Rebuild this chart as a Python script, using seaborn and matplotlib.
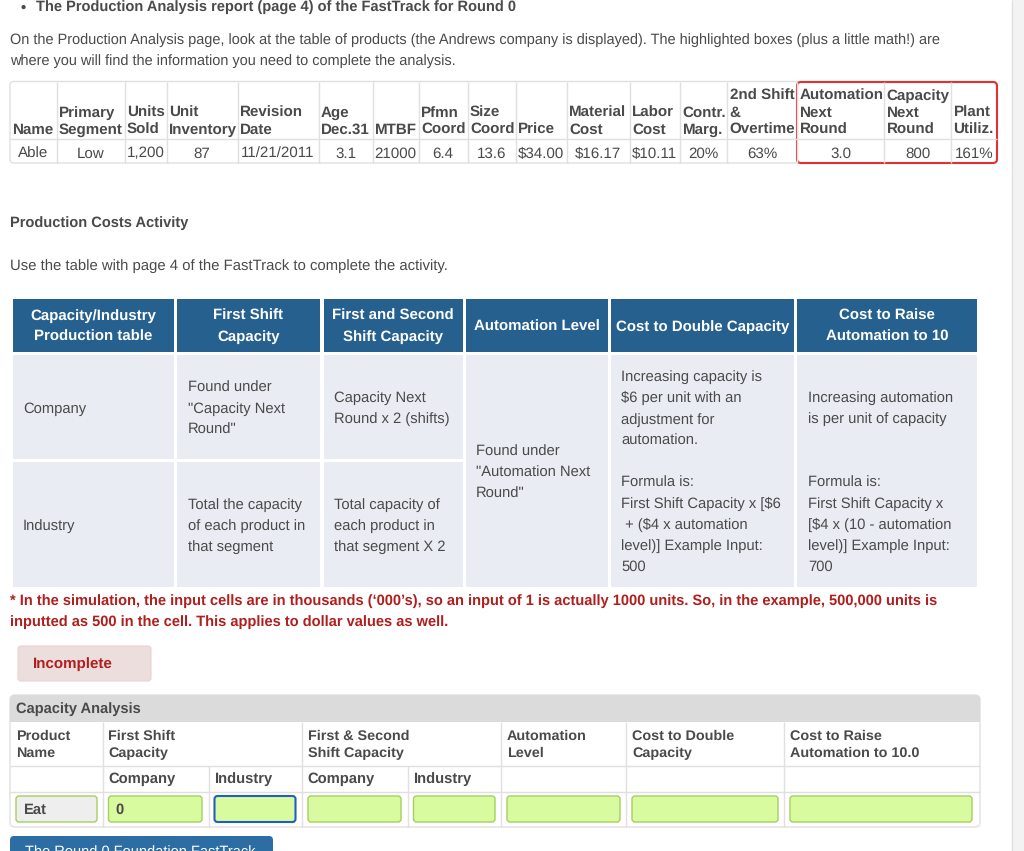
import matplotlib
matplotlib.use("Agg")
import matplotlib.pyplot as plt
import seaborn as sns
from matplotlib.patches import FancyBboxPatch, Rectangle

# text of the page
title = "The Production Analysis report (page 4) of the FastTrack for Round 0"
intro = ["On the Production Analysis page, look at the table of products (the Andrews company is displayed). The highlighted boxes (plus a little math!) are",
         "where you will find the information you need to complete the analysis."]
section = "Production Costs Activity"
section_note = "Use the table with page 4 of the FastTrack to complete the activity."
footnote = ["* In the simulation, the input cells are in thousands (\u2018000\u2019s), so an input of 1 is actually 1000 units. So, in the example, 500,000 units is",
            "inputted as 500 in the cell. This applies to dollar values as well."]
status = "Incomplete"
button = "The Round 0 Foundation FastTrack"

# product table
product_head = [["Name"], ["Primary", "Segment"], ["Units", "Sold"], ["Unit", "Inventory"],
                ["Revision", "Date"], ["Age", "Dec.31"], ["MTBF"], ["Pfmn", "Coord"], ["Size", "Coord"],
                ["Price"], ["Material", "Cost"], ["Labor", "Cost"], ["Contr.", "Marg."],
                ["2nd Shift", "&", "Overtime"], ["Automation", "Next", "Round"],
                ["Capacity", "Next", "Round"], ["Plant", "Utiliz."]]
product_vals = ["Able", "Low", "1,200", "87", "11/21/2011", "3.1", "21000", "6.4", "13.6",
                "$34.00", "$16.17", "$10.11", "20%", "63%", "3.0", "800", "161%"]

# activity table
activity_head = [["Capacity/Industry", "Production table"], ["First Shift", "Capacity"],
                 ["First and Second", "Shift Capacity"], ["Automation Level"],
                 ["Cost to Double Capacity"], ["Cost to Raise", "Automation to 10"]]
row_names = ["Company", "Industry"]
first_shift = [["Found under", "\"Capacity Next", "Round\""],
               ["Total the capacity", "of each product in", "that segment"]]
both_shifts = [["Capacity Next", "Round x 2 (shifts)"],
               ["Total capacity of", "each product in", "that segment X 2"]]
automation = ["Found under", "\"Automation Next", "Round\""]
double_cost = ["Increasing capacity is", "$6 per unit with an", "adjustment for", "automation.", "",
               "Formula is:", "First Shift Capacity x [$6", " + ($4 x automation", "level)] Example Input:", "500"]
raise_cost = ["Increasing automation", "is per unit of capacity", "", "",
              "Formula is:", "First Shift Capacity x", "[$4 x (10 - automation", "level)] Example Input:", "700"]

# capacity analysis form
form_title = "Capacity Analysis"
form_head = [["Product", "Name"], ["First Shift", "Capacity"], ["First & Second", "Shift Capacity"],
             ["Automation", "Level"], ["Cost to Double", "Capacity"], ["Cost to Raise", "Automation to 10.0"]]
form_sub = ["Company", "Industry", "Company", "Industry"]
form_inputs = ["Eat", "0", "", "", "", "", "", ""]

# layout, in pixels of the screenshot
product_x = [10, 56.5, 124.5, 166.5, 237.5, 318.5, 372.5, 418.5, 467.5, 515.5, 566.5, 629.5, 680, 727, 797, 884, 951, 997]
activity_x = [(12.5, 174), (177, 320), (323.5, 463), (466, 608), (611, 794), (797, 977)]
form_x = [10, 102.5, 301.5, 501, 626, 784, 980]
input_x = [(16, 97), (108.5, 202), (214.5, 295.5), (308, 401), (413.5, 495), (507, 620), (632, 778), (790, 972)]

INK = "#4a4a4a"
RED = "#b01e1e"
BLUE = "#25608f"
CELL = "#e9ecf3"
LINE = "#e0e0e0"
FS = 10.65

sns.set_theme(style="white", rc={"font.family": ["Liberation Sans", "DejaVu Sans"],
                                 "text.hinting": "none"})

fig = plt.figure(figsize=(10.24, 8.51), dpi=100)
ax = fig.add_axes([0, 0, 1, 1])
ax.set_xlim(0, 1024)
ax.set_ylim(851, 0)
ax.axis("off")


def label(x, y, s, bold=False, color=INK, ha="left", size=FS):
    # y is the baseline
    ax.text(x, y, s, color=color, ha=ha, va="baseline", fontsize=size,
            fontweight="bold" if bold else "normal")


def box(x0, y0, x1, y1, fc, ec="none", lw=0.8, r=0):
    if r:
        p = FancyBboxPatch((x0, y0), x1 - x0, y1 - y0, boxstyle=f"round,pad=0,rounding_size={r}",
                           fc=fc, ec=ec, lw=lw)
    else:
        p = Rectangle((x0, y0), x1 - x0, y1 - y0, fc=fc, ec=ec, lw=lw)
    ax.add_patch(p)


def vline(x, y0, y1):
    ax.plot([x, x], [y0, y1], color=LINE, lw=1.0, solid_capstyle="butt")


def hline(y, x0, x1):
    ax.plot([x0, x1], [y, y], color=LINE, lw=1.0, solid_capstyle="butt")


# scrollbar strip on the right
box(1012, 0, 1024, 851, "#f3f3f3")
vline(1012, 0, 851)

# heading and intro
label(21, 12, "\u2022", bold=True)
label(36, 12, title, bold=True, size=10.57)
label(10, 44, intro[0], size=10.45)
label(10, 65, intro[1], size=10.45)

# product table
box(10, 81.5, 997, 163, "white", LINE, lw=1.0, r=4)
hline(139, 10, 997)
for x in product_x[1:-1]:
    vline(x, 81.5, 163)
for i, head in enumerate(product_head):
    x0, x1 = product_x[i], product_x[i + 1]
    for j, line in enumerate(reversed(head)):
        label(x0 + 2.5, 133.5 - j * 16.7, line, bold=True, size=10.9)
    label((x0 + x1) / 2, 157.5, product_vals[i], ha="center", size=10.9)
box(797, 82, 997, 163, "none", "#e53030", lw=1.5, r=4)

label(10, 227, section, bold=True, size=10.5)
label(10, 270, section_note, size=10.7)

# activity table
for (x0, x1), head in zip(activity_x, activity_head):
    box(x0, 299, x1, 352, BLUE)
    ys = [320, 341] if len(head) == 2 else [330.5]
    for y, line in zip(ys, head):
        label((x0 + x1) / 2, y, line, bold=True, color="white", ha="center", size=10.8)
for x0, x1 in activity_x[:3]:
    box(x0, 355, x1, 459, CELL)
    box(x0, 462, x1, 587, CELL)
for x0, x1 in activity_x[3:]:
    box(x0, 355, x1, 587, CELL)

label(23, 413, row_names[0])
label(23, 530, row_names[1])
for y, line in zip([391.5, 413, 434], first_shift[0]):
    label(188, y, line)
for y, line in zip([509, 530, 551], first_shift[1]):
    label(188, y, line)
for y, line in zip([402, 423], both_shifts[0]):
    label(334.5, y, line)
for y, line in zip([509, 530, 551], both_shifts[1]):
    label(334.5, y, line)
for y, line in zip([455.5, 476.5, 497.5], automation):
    label(476, y, line)
for i, line in enumerate(double_cost):
    label(621, 381.2 + i * 21.1, line)
for i, line in enumerate(raise_cost):
    label(808, 402.2 + i * 21.1, line)

# red note and status
label(10, 605, footnote[0], bold=True, color=RED, size=10.5)
label(10, 626, footnote[1], bold=True, color=RED, size=10.5)
box(18, 646, 151, 681, "#eddede", "#e8d2d2", r=3)
label(33, 668, status, bold=True, color=RED, size=10.9)

# capacity analysis form
box(10, 695, 980, 827, "white", LINE, lw=1.0, r=5)
box(10, 695, 980, 715, "#dbdbdb", r=5)
box(10, 702, 980, 722, "#dbdbdb")
label(16, 713, form_title, bold=True, size=10.5)
hline(765.5, 10, 980)
hline(791.5, 10, 980)
for x in form_x[1:-1]:
    vline(x, 722, 827)
vline(208.5, 765.5, 827)
vline(407.5, 765.5, 827)
for x, head in zip(form_x, form_head):
    label(x + 6, 740, head[0], bold=True, size=10.4)
    label(x + 6, 757, head[1], bold=True, size=10.4)
for x, s in zip([108, 214, 307.5, 413.5], form_sub):
    label(x, 783, s, bold=True, size=10.6)
for i, ((x0, x1), s) in enumerate(zip(input_x, form_inputs)):
    fc = "#eeeeee" if i == 0 else "#d8fb9f"
    ec = "#1f5fc4" if i == 2 else "#a6cf60"
    box(x0, 796, x1, 822, fc, ec, lw=1.5 if i == 2 else 1.0, r=3)
    if s:
        label(x0 + 7, 814, s, bold=True, size=10.6)

# button cut off by the bottom of the screenshot
box(10, 836, 273, 870, "#2c6da3", r=4)
label(25, 857, button, color="white", size=10.5)

fig.savefig("out.png", dpi=100)
